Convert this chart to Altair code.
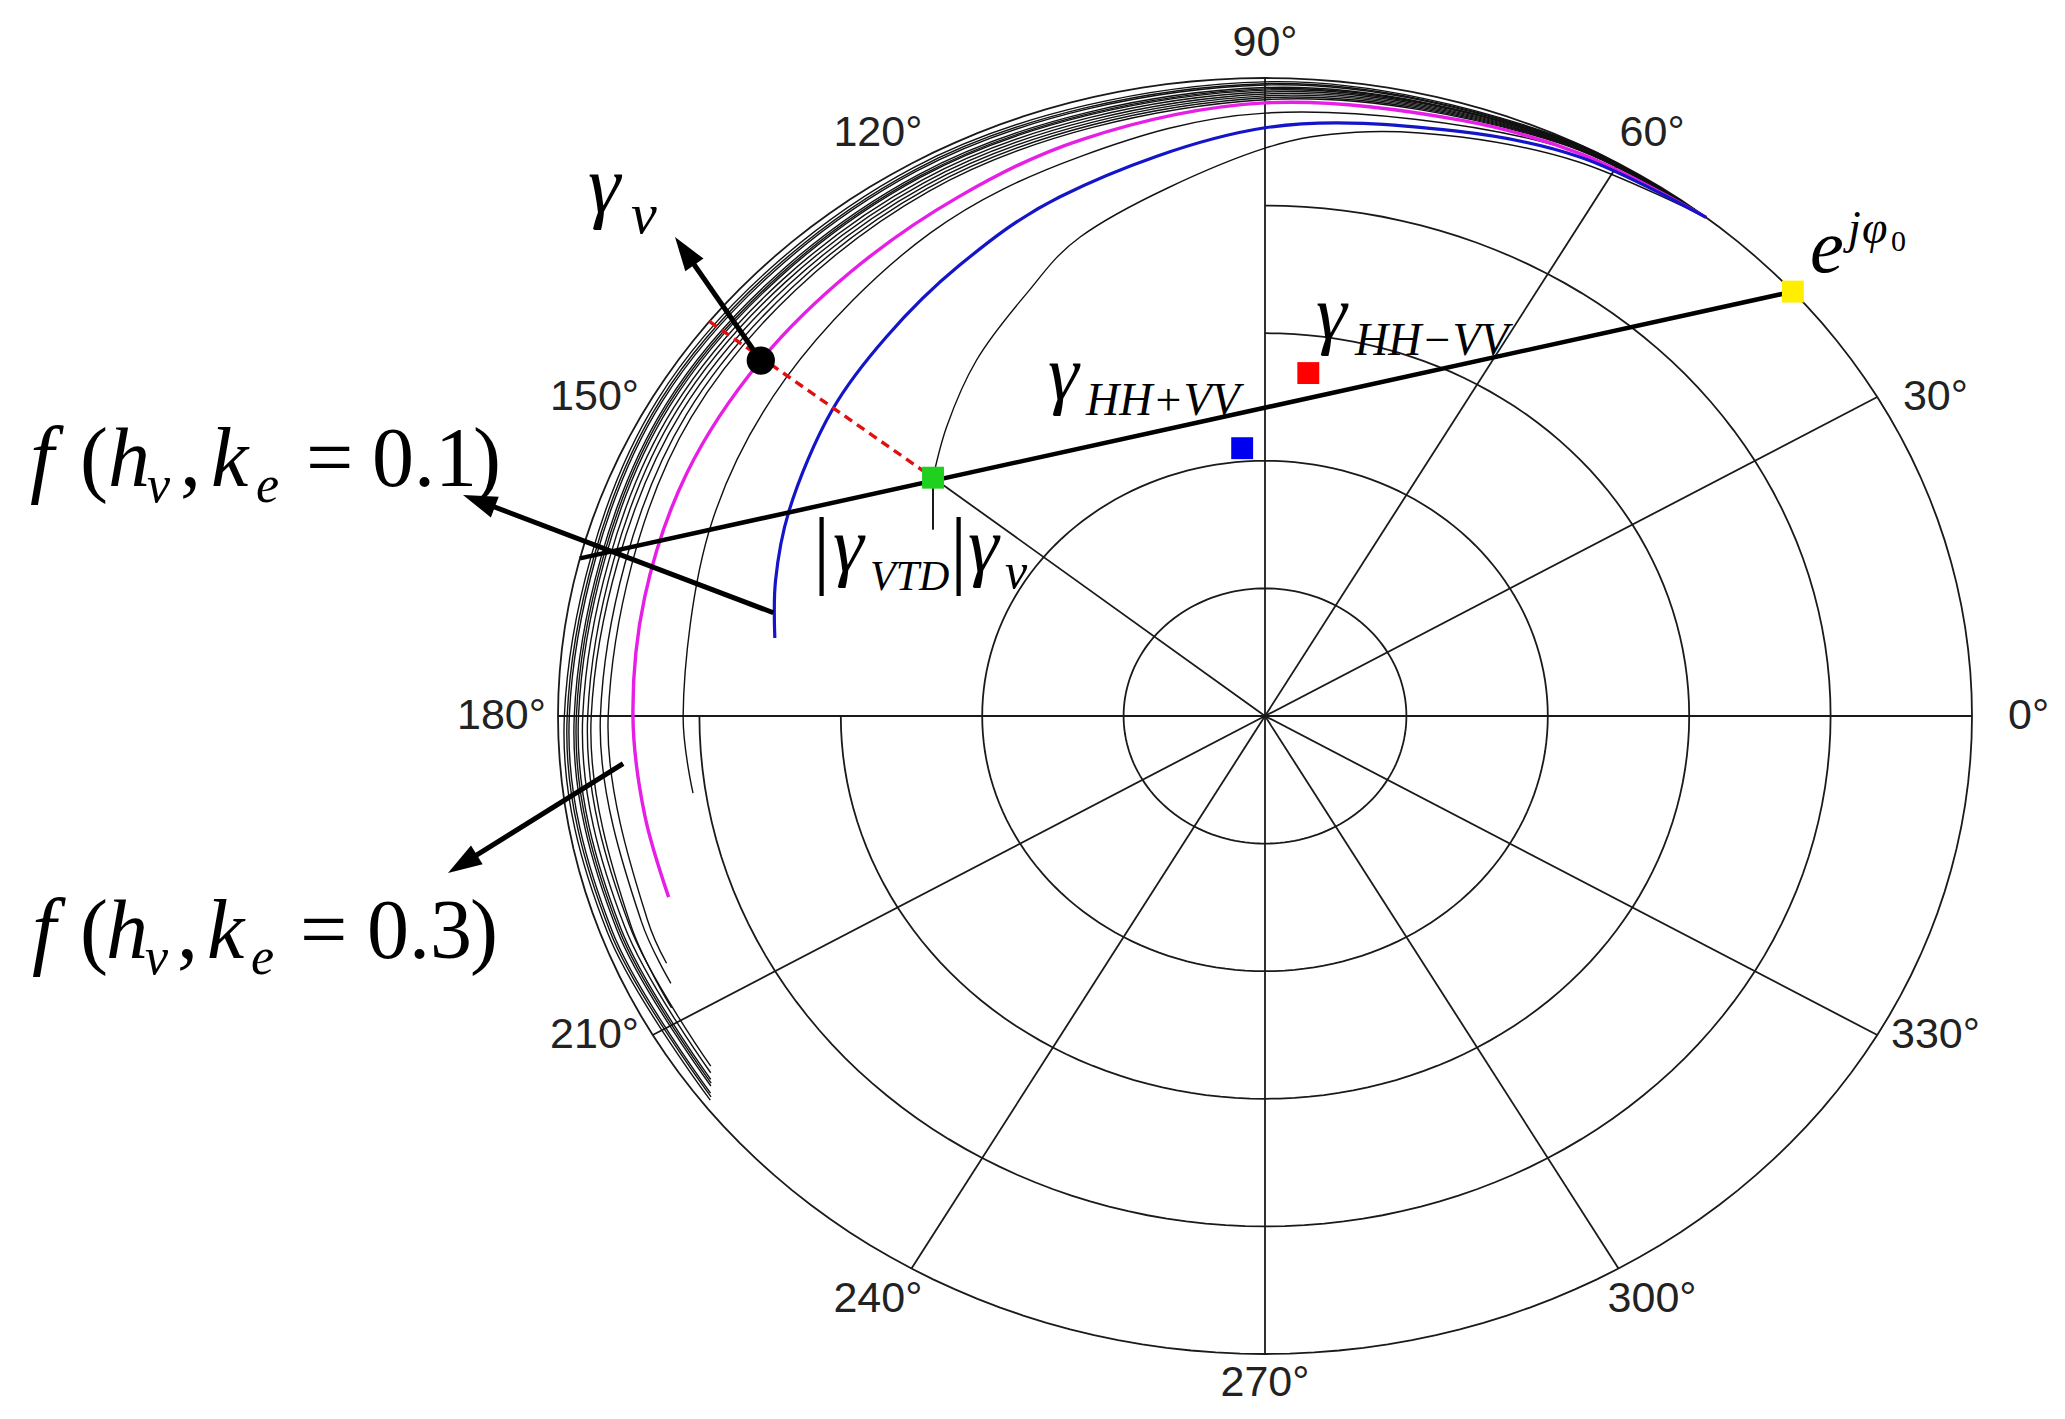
import math
import numpy as np
import pandas as pd
import altair as alt

# ---------------- values ----------------
# polar grid
RING_RADII = [0.2, 0.4, 0.6, 0.8, 1.0]
RINGS_OPEN_UPPER_LEFT = [0.6, 0.8]          # not drawn between 90 and 180 degrees
SPOKE_ANGLES = [0, 30, 60, 90, 180, 210, 240, 270, 300, 330]
TICK_ANGLES = [0, 30, 60, 90, 120, 150, 180, 210, 240, 270, 300, 330]
TICK_LABELS = [f"{a}°" for a in TICK_ANGLES]

# coherence points: (phase in degrees, magnitude)
PHI0 = (41.7, 1.0)                # e^{j phi0} (yellow)
GAMMA_VTD = (141.5, 0.600)        # green
GAMMA_HH_MINUS_VV = (83.5, 0.541) # red
GAMMA_HH_PLUS_VV = (94.4, 0.421)  # blue square
GAMMA_V = (142.0, 0.905)          # black dot
LINE_END = (165.7, 1.0)           # other end of the fitted line
RADIAL_TOP = (141.8, 1.0)         # top of the red dashed segment

# f(hv, ke) loci: phase (deg) and magnitude
BLUE_ANG = [51.4, 63, 73.5, 90, 109.6, 121.5, 132, 141.8, 154.5, 163, 170]
BLUE_R = [1.0, 0.983, 0.956, 0.922, 0.864, 0.828, 0.800, 0.778, 0.746, 0.724, 0.704]

MAGENTA_ANG = [51.4, 63, 73.5, 90, 106, 118, 130, 142, 155, 168, 180, 190, 198.6]
MAGENTA_R = [1.0, 0.988, 0.974, 0.961, 0.940, 0.922, 0.910, 0.905, 0.902, 0.897, 0.894, 0.891, 0.890]

INNER_ANG = [51.4, 65, 90, 106.6, 122, 142, 159, 180, 188.5]
INNER_R = [1.0, 0.985, 0.945, 0.915, 0.893, 0.860, 0.839, 0.823, 0.818]

VTD_ANG = [51.4, 63, 73, 82, 90, 109.2, 117, 126.2, 134.8, 141.5]
VTD_R = [1.0, 0.975, 0.949, 0.924, 0.890, 0.795, 0.743, 0.691, 0.639, 0.600]

OUTER_ANG = [51.4, 65, 90, 120, 150, 180, 200]
OUTER_R = [
    [1.0, 0.999, 0.994, 0.993, 0.992, 0.991, 0.990],
    [1.0, 0.998, 0.991, 0.989, 0.988, 0.987, 0.986],
    [1.0, 0.997, 0.989, 0.986, 0.985, 0.984, 0.983],
    [1.0, 0.996, 0.985, 0.980, 0.978, 0.977, 0.976],
    [1.0, 0.996, 0.983, 0.977, 0.975, 0.974, 0.973],
    [1.0, 0.995, 0.981, 0.975, 0.972, 0.971, 0.970],
    [1.0, 0.994, 0.978, 0.970, 0.966, 0.965, 0.964],
    [1.0, 0.993, 0.975, 0.965, 0.960, 0.958, 0.957],
    [1.0, 0.992, 0.972, 0.960, 0.953, 0.953, 0.955],
    [1.0, 0.991, 0.969, 0.955, 0.945, 0.940, 0.939],
    [1.0, 0.990, 0.966, 0.950, 0.937, 0.929, 0.930],
]
OUTER_END = [(217.5, 0.989), (217.3, 0.985), (217.0, 0.982), (216.5, 0.975),
             (216.3, 0.972), (216.0, 0.969), (215.5, 0.963), (215.0, 0.957),
             (208.6, 0.956), (206.5, 0.939), (204.6, 0.931)]

# arrows: tail on a locus (phase, magnitude) -> tip near its label
ARROW_TAILS = [GAMMA_V, (166.9, 0.714), (184.7, 0.911)]

# ---------------- layout (page pixels) ----------------
W, H = 2049, 1398
CX, CY = 1265.0, 716.0
SX, SY = 707.0, 638.0
X0 = (8 - CX) / SX
X1 = X0 + W / SX
Y1 = (CY - 8) / SY
Y0 = Y1 - H / SY

ARROW_TIPS_PX = [(675, 237), (463, 495), (448, 873)]

SERIF = "Liberation Serif"
# (text, italic?, font size, left x, baseline y)
MATH_PIECES = [
    ("γ", True, 82, 588, 212), ("v", True, 58, 631, 233),
    # f(hv, ke = 0.1)
    ("f", True, 86, 30, 486), ("(", False, 84, 80, 486), ("h", True, 84, 108, 486),
    ("v", True, 52, 147, 502), (",", False, 84, 180, 486), ("k", True, 84, 211, 486),
    ("e", True, 52, 256, 502), ("=", False, 84, 306, 486), ("0.1", False, 84, 372, 486),
    (")", False, 84, 473, 486),
    # f(hv, ke = 0.3)
    ("f", True, 86, 32, 958), ("(", False, 84, 80, 958), ("h", True, 84, 106, 958),
    ("v", True, 52, 145, 974), (",", False, 84, 177, 958), ("k", True, 84, 207, 958),
    ("e", True, 52, 251, 974), ("=", False, 84, 300, 958), ("0.3", False, 84, 367, 958),
    (")", False, 84, 470, 958),
    # gamma HH+VV, gamma HH-VV
    ("γ", True, 78, 1048, 399), ("HH+VV", True, 46, 1086, 415),
    ("γ", True, 78, 1316, 339), ("HH−VV", True, 46, 1355, 355),
    # |gamma VTD| gamma v
    ("|", False, 86, 813, 577), ("γ", True, 78, 833, 571), ("VTD", True, 42, 870, 590),
    ("|", False, 86, 950, 577), ("γ", True, 78, 968, 571), ("v", True, 50, 1005, 588),
    # e^{j phi0}
    ("e", True, 76, 1810, 272), ("j", True, 46, 1848, 243), ("φ", True, 46, 1862, 243),
    ("0", False, 30, 1891, 251),
]


def pol(a, r):
    t = math.radians(a)
    return r * math.cos(t), r * math.sin(t)


def px2d(X, Y):
    return (X - CX) / SX, (CY - Y) / SY


def d2px(x, y):
    return CX + x * SX, CY - y * SY


xs = alt.Scale(domain=[X0, X1], nice=False, zero=False)
ys = alt.Scale(domain=[Y0, Y1], nice=False, zero=False)


def XE(f="x"):
    return alt.X(f"{f}:Q", scale=xs, axis=None)


def YE(f="y"):
    return alt.Y(f"{f}:Q", scale=ys, axis=None)


GRID_COLOR = "#1a1a1a"
GRID_W = 1.8

# ---- grid ----
rows = []
for r in RING_RADII:
    if r in RINGS_OPEN_UPPER_LEFT:
        angs = np.arange(180, 450.1, 2.0)
    else:
        angs = np.arange(0, 360.1, 2.0)
    for i, a in enumerate(angs):
        x, y = pol(a, r)
        rows.append({"x": x, "y": y, "seg": f"r{r}", "idx": i})
grid_df = pd.DataFrame(rows)
grid = alt.Chart(grid_df).mark_line(color=GRID_COLOR, strokeWidth=GRID_W).encode(
    x=XE(), y=YE(), detail="seg:N", order="idx:Q")

sp = []
for a in SPOKE_ANGLES:
    x2, y2 = pol(a, 1.0)
    sp.append({"x": 0.0, "y": 0.0, "x2": x2, "y2": y2})
spokes = alt.Chart(pd.DataFrame(sp)).mark_rule(color=GRID_COLOR, strokeWidth=GRID_W).encode(
    x=XE(), y=YE(), x2="x2:Q", y2="y2:Q")


# ---- loci ----
def curve_rows(name, angs, rads):
    out = []
    for i, (a, r) in enumerate(zip(angs, rads)):
        x, y = pol(a, r)
        out.append({"x": x, "y": y, "curve": name, "idx": i})
    return out


black_rows = []
for k, rr in enumerate(OUTER_R):
    ea, er = OUTER_END[k]
    angs = [a for a in OUTER_ANG if a < ea] + [ea]
    rads = rr[:len(angs) - 1] + [er]
    black_rows += curve_rows(f"outer{k}", angs, rads)
black_rows += curve_rows("inner", INNER_ANG, INNER_R)
black_rows += curve_rows("vtd", VTD_ANG, VTD_R)

black_curves = alt.Chart(pd.DataFrame(black_rows)).mark_line(
    color="#111", strokeWidth=1.4, interpolate="catmull-rom").encode(
    x=XE(), y=YE(), detail="curve:N", order="idx:Q")
magenta = alt.Chart(pd.DataFrame(curve_rows("m", MAGENTA_ANG, MAGENTA_R))).mark_line(
    color="#e61ee6", strokeWidth=3.4, interpolate="catmull-rom").encode(
    x=XE(), y=YE(), order="idx:Q")
blue = alt.Chart(pd.DataFrame(curve_rows("b", BLUE_ANG, BLUE_R))).mark_line(
    color="#1414c8", strokeWidth=3.2, interpolate="catmull-rom").encode(
    x=XE(), y=YE(), order="idx:Q")

# ---- straight segments ----
p_phi0 = pol(*PHI0)
p_end = pol(*LINE_END)
p_vtd = pol(*GAMMA_VTD)
p_top = pol(*RADIAL_TOP)

fit_line = alt.Chart(pd.DataFrame([{"x": p_phi0[0], "y": p_phi0[1], "x2": p_end[0], "y2": p_end[1]}])
                     ).mark_rule(color="black", strokeWidth=4.5).encode(
    x=XE(), y=YE(), x2="x2:Q", y2="y2:Q")
radial = alt.Chart(pd.DataFrame([{"x": 0.0, "y": 0.0, "x2": p_vtd[0], "y2": p_vtd[1]}])
                   ).mark_rule(color=GRID_COLOR, strokeWidth=GRID_W).encode(
    x=XE(), y=YE(), x2="x2:Q", y2="y2:Q")
tick = alt.Chart(pd.DataFrame([{"x": p_vtd[0], "y": p_vtd[1], "y2": p_vtd[1] - 52 / SY}])
                 ).mark_rule(color=GRID_COLOR, strokeWidth=2).encode(
    x=XE(), y=YE(), y2="y2:Q")
red_dash = alt.Chart(pd.DataFrame([{"x": p_top[0], "y": p_top[1], "x2": p_vtd[0], "y2": p_vtd[1]}])
                     ).mark_rule(color="#e01010", strokeWidth=3.4, strokeDash=[9, 6]).encode(
    x=XE(), y=YE(), x2="x2:Q", y2="y2:Q")

# ---- arrows ----
shaft_rows, head_rows = [], []
HEAD = 34.0
for tail, tip_px in zip(ARROW_TAILS, ARROW_TIPS_PX):
    tx, ty = d2px(*pol(*tail))
    px, py = tip_px
    dx, dy = px - tx, py - ty
    L = math.hypot(dx, dy)
    ux, uy = dx / L, dy / L
    cx_, cy_ = px - ux * HEAD / 2, py - uy * HEAD / 2
    ex, ey = px - ux * HEAD * 0.6, py - uy * HEAD * 0.6
    a0 = pol(*tail)
    e = px2d(ex, ey)
    c = px2d(cx_, cy_)
    shaft_rows.append({"x": a0[0], "y": a0[1], "x2": e[0], "y2": e[1]})
    ang = (math.degrees(math.atan2(ux, -uy)) + 360) % 360
    head_rows.append({"x": c[0], "y": c[1], "ang": ang})

shafts = alt.Chart(pd.DataFrame(shaft_rows)).mark_rule(color="black", strokeWidth=5).encode(
    x=XE(), y=YE(), x2="x2:Q", y2="y2:Q")
heads = alt.Chart(pd.DataFrame(head_rows)).mark_point(
    shape="M0,-1L0.65,1L-0.65,1Z", filled=True, color="black", opacity=1,
    size=HEAD * HEAD, strokeWidth=0).encode(
    x=XE(), y=YE(), angle=alt.Angle("ang:Q", scale=None))

# ---- markers ----
sq = []
for (a, r), col in [(PHI0, "#ffee00"), (GAMMA_VTD, "#1fd01f"),
                    (GAMMA_HH_MINUS_VV, "#ff0000"), (GAMMA_HH_PLUS_VV, "#0000f0")]:
    x, y = pol(a, r)
    sq.append({"x": x, "y": y, "c": col})
squares = alt.Chart(pd.DataFrame(sq)).mark_point(
    shape="square", filled=True, size=480, opacity=1, strokeWidth=0).encode(
    x=XE(), y=YE(), color=alt.Color("c:N", scale=None))
gv = pol(*GAMMA_V)
dot = alt.Chart(pd.DataFrame([{"x": gv[0], "y": gv[1]}])).mark_point(
    shape="circle", filled=True, size=800, color="black", opacity=1).encode(x=XE(), y=YE())

# ---- angle labels ----
lab = []
for a, t in zip(TICK_ANGLES, TICK_LABELS):
    c, s = math.cos(math.radians(a)), math.sin(math.radians(a))
    if abs(s) > 0.99 and s < 0:
        yoff = 0.045 * s          # bottom label kept inside the page
    elif abs(s) > 0.7:
        yoff = 0.055 * s
    else:
        yoff = 0.0
    kx = 1.08 if abs(s) < 0.1 else 1.095
    lab.append({"x": kx * c, "y": s + yoff, "t": t})
angle_labels = alt.Chart(pd.DataFrame(lab)).mark_text(
    font="Liberation Sans", fontSize=43, color="#222", align="center", baseline="middle").encode(
    x=XE(), y=YE(), text="t:N")

# ---- math labels ----
it_rows, up_rows = [], []
for t, italic, size, X, Y in MATH_PIECES:
    x, y = px2d(X, Y)
    (it_rows if italic else up_rows).append({"x": x, "y": y, "t": t, "s": size})
math_it = alt.Chart(pd.DataFrame(it_rows)).mark_text(
    font=SERIF, fontStyle="italic", color="black", align="left", baseline="alphabetic").encode(
    x=XE(), y=YE(), text="t:N", size=alt.Size("s:Q", scale=None))
math_up = alt.Chart(pd.DataFrame(up_rows)).mark_text(
    font=SERIF, color="black", align="left", baseline="alphabetic").encode(
    x=XE(), y=YE(), text="t:N", size=alt.Size("s:Q", scale=None))

chart = alt.layer(
    grid, spokes, black_curves, magenta, blue, radial, tick, fit_line, red_dash,
    shafts, heads, squares, dot, angle_labels, math_it, math_up
).properties(
    width=W, height=H, padding=0, autosize=alt.AutoSizeParams(type="none"),
    background="white"
).configure_view(stroke=None)

chart.save("out.html", embed_options={"renderer": "svg", "actions": False})
